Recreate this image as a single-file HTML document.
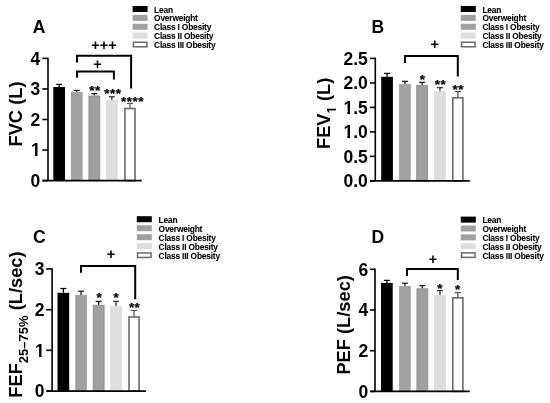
<!DOCTYPE html>
<html><head><meta charset="utf-8"><style>
html,body{margin:0;padding:0;background:#fff;}
svg{display:block;}
text{font-family:"Liberation Sans", Arial, sans-serif;}
.pl{font-size:17.5px;font-weight:bold;}
.tk{font-size:17.5px;font-weight:bold;text-anchor:end;}
.yl{font-size:18.3px;font-weight:bold;}
.lg{font-size:8.4px;font-weight:bold;letter-spacing:-0.2px;stroke:#000;stroke-width:0.08px;}
.st{font-size:13.5px;font-weight:bold;text-anchor:middle;letter-spacing:0.45px;stroke:#000;stroke-width:0.25px;}
.pp{font-size:14.5px;font-weight:bold;text-anchor:middle;}
.ax{stroke:#000;stroke-width:1.6;fill:none;}
.br{stroke:#000;stroke-width:2;fill:none;}
</style></head><body>
<svg width="550" height="403" viewBox="0 0 550 403">
<rect width="550" height="403" fill="#fff"/>
<g><text x="32.7" y="32.6" class="pl">A</text><line x1="48" y1="57.65" x2="48" y2="180.6" class="ax"/><line x1="42.3" y1="180.6" x2="48" y2="180.6" class="ax"/><text x="40.3" y="186.86" class="tk">0</text><line x1="42.3" y1="150.05" x2="48" y2="150.05" class="ax"/><text x="40.7" y="156.31" class="tk">1</text><line x1="42.3" y1="119.5" x2="48" y2="119.5" class="ax"/><text x="40.3" y="125.77" class="tk">2</text><line x1="42.3" y1="88.95" x2="48" y2="88.95" class="ax"/><text x="40.3" y="95.22" class="tk">3</text><line x1="42.3" y1="58.4" x2="48" y2="58.4" class="ax"/><text x="40.3" y="64.66" class="tk">4</text><line x1="59.15" y1="84.4" x2="59.15" y2="87" stroke="#000" stroke-width="1.3"/><line x1="56.15" y1="84.4" x2="62.15" y2="84.4" stroke="#000" stroke-width="1.25"/><rect x="53.3" y="87" width="11.7" height="93.6" fill="#000000"/><line x1="76.75" y1="90.4" x2="76.75" y2="92" stroke="#1a1a1a" stroke-width="1.3"/><line x1="73.75" y1="90.4" x2="79.75" y2="90.4" stroke="#1a1a1a" stroke-width="1.25"/><rect x="70.9" y="92" width="11.7" height="88.6" fill="#a0a1a5"/><line x1="94.35" y1="93.6" x2="94.35" y2="95.6" stroke="#1a1a1a" stroke-width="1.3"/><line x1="91.35" y1="93.6" x2="97.35" y2="93.6" stroke="#1a1a1a" stroke-width="1.25"/><rect x="88.9" y="96" width="10.9" height="84.6" fill="#a0a0a0" stroke="#888888" stroke-width="0.8"/><line x1="111.85" y1="96.8" x2="111.85" y2="99.9" stroke="#333" stroke-width="1.3"/><line x1="108.85" y1="96.8" x2="114.85" y2="96.8" stroke="#333" stroke-width="1.25"/><rect x="106" y="99.9" width="11.7" height="80.7" fill="#dedede"/><line x1="129.95" y1="103.4" x2="129.95" y2="107.7" stroke="#555" stroke-width="1.3"/><line x1="126.95" y1="103.4" x2="132.95" y2="103.4" stroke="#555" stroke-width="1.25"/><rect x="124.9" y="108.5" width="10.1" height="72.1" fill="#fff" stroke="#6a6a6a" stroke-width="1.6"/><line x1="42.4" y1="180.6" x2="141.8" y2="180.6" class="ax"/><text x="94.92" y="95.1" class="st">**</text><text x="112.82" y="97.6" class="st">***</text><text x="132.52" y="105.6" class="st">****</text><path d="M77 62.4V55.7H131.1V88.5" class="br"/><path d="M77.1 77.7V71.4H113.9V79.4" class="br"/><text x="104" y="49.8" class="pp">+++</text><text x="97.5" y="68.7" class="pp">+</text><rect x="132.6" y="6" width="15" height="6" fill="#000000"/><text x="154.1" y="12.55" class="lg">Lean</text><rect x="132.6" y="14.88" width="15" height="6" fill="#a0a1a5"/><text x="154.1" y="21.43" class="lg">Overweight</text><rect x="132.6" y="23.76" width="15" height="6" fill="#a0a0a0"/><text x="154.1" y="30.31" class="lg">Class I Obesity</text><rect x="132.6" y="32.64" width="15" height="6" fill="#dedede"/><text x="154.1" y="39.19" class="lg">Class II Obesity</text><rect x="133.35" y="42.27" width="13.5" height="4.5" fill="#fff" stroke="#6a6a6a" stroke-width="1.5"/><text x="154.1" y="48.07" class="lg">Class III Obesity</text><text transform="translate(21.6,146.5) rotate(-90)" class="yl">FVC (L)</text><rect x="31.27" y="153.72" width="3.68" height="3.19" fill="#fff"/><rect x="37.55" y="153.72" width="3.46" height="3.19" fill="#fff"/></g>
<g><text x="371.5" y="32.6" class="pl">B</text><line x1="375.3" y1="57.65" x2="375.3" y2="180.9" class="ax"/><line x1="370" y1="180.9" x2="375.3" y2="180.9" class="ax"/><text x="367.8" y="187.16" class="tk">0.0</text><line x1="370" y1="156.4" x2="375.3" y2="156.4" class="ax"/><text x="367.8" y="162.66" class="tk">0.5</text><line x1="370" y1="131.9" x2="375.3" y2="131.9" class="ax"/><text x="367.8" y="138.16" class="tk">1.0</text><line x1="370" y1="107.4" x2="375.3" y2="107.4" class="ax"/><text x="367.8" y="113.67" class="tk">1.5</text><line x1="370" y1="82.9" x2="375.3" y2="82.9" class="ax"/><text x="367.8" y="89.17" class="tk">2.0</text><line x1="370" y1="58.4" x2="375.3" y2="58.4" class="ax"/><text x="367.8" y="64.66" class="tk">2.5</text><line x1="387.05" y1="73.4" x2="387.05" y2="76.8" stroke="#000" stroke-width="1.3"/><line x1="384.05" y1="73.4" x2="390.05" y2="73.4" stroke="#000" stroke-width="1.25"/><rect x="381.2" y="76.8" width="11.7" height="104.1" fill="#000000"/><line x1="404.95" y1="81.3" x2="404.95" y2="84" stroke="#1a1a1a" stroke-width="1.3"/><line x1="401.95" y1="81.3" x2="407.95" y2="81.3" stroke="#1a1a1a" stroke-width="1.25"/><rect x="399.1" y="84" width="11.7" height="96.9" fill="#a0a1a5"/><line x1="422.15" y1="82.4" x2="422.15" y2="84.9" stroke="#1a1a1a" stroke-width="1.3"/><line x1="419.15" y1="82.4" x2="425.15" y2="82.4" stroke="#1a1a1a" stroke-width="1.25"/><rect x="416.7" y="85.3" width="10.9" height="95.6" fill="#a0a0a0" stroke="#888888" stroke-width="0.8"/><line x1="439.95" y1="87.7" x2="439.95" y2="90.9" stroke="#333" stroke-width="1.3"/><line x1="436.95" y1="87.7" x2="442.95" y2="87.7" stroke="#333" stroke-width="1.25"/><rect x="434.1" y="90.9" width="11.7" height="90" fill="#dedede"/><line x1="457.85" y1="91.4" x2="457.85" y2="97" stroke="#555" stroke-width="1.3"/><line x1="454.85" y1="91.4" x2="460.85" y2="91.4" stroke="#555" stroke-width="1.25"/><rect x="452.8" y="97.8" width="10.1" height="83.1" fill="#fff" stroke="#6a6a6a" stroke-width="1.6"/><line x1="370" y1="180.9" x2="469.8" y2="180.9" class="ax"/><text x="422.62" y="83.9" class="st">*</text><text x="440.42" y="88.8" class="st">**</text><text x="458.22" y="93.8" class="st">**</text><path d="M405 63.1V55.9H457.8V76.5" class="br"/><text x="434.8" y="48.8" class="pp">+</text><rect x="460.8" y="6" width="15" height="6" fill="#000000"/><text x="482.4" y="12.55" class="lg">Lean</text><rect x="460.8" y="14.88" width="15" height="6" fill="#a0a1a5"/><text x="482.4" y="21.43" class="lg">Overweight</text><rect x="460.8" y="23.76" width="15" height="6" fill="#a0a0a0"/><text x="482.4" y="30.31" class="lg">Class I Obesity</text><rect x="460.8" y="32.64" width="15" height="6" fill="#dedede"/><text x="482.4" y="39.19" class="lg">Class II Obesity</text><rect x="461.55" y="42.27" width="13.5" height="4.5" fill="#fff" stroke="#6a6a6a" stroke-width="1.5"/><text x="482.4" y="48.07" class="lg">Class III Obesity</text><text transform="translate(329.9,149) rotate(-90)" class="yl">FEV<tspan dy="6" font-size="13">1</tspan><tspan dy="-6"> (L)</tspan></text><rect x="343.77" y="135.57" width="3.68" height="3.19" fill="#fff"/><rect x="350.06" y="135.57" width="3.46" height="3.19" fill="#fff"/><rect x="343.77" y="111.08" width="3.68" height="3.19" fill="#fff"/><rect x="350.06" y="111.08" width="3.46" height="3.19" fill="#fff"/><g transform="translate(329.9,149) rotate(-90)"><rect x="35.58" y="3.87" width="2.92" height="2.73" fill="#fff"/><rect x="40.48" y="3.87" width="2.75" height="2.73" fill="#fff"/></g></g>
<g><text x="32.9" y="242.5" class="pl">C</text><line x1="52.1" y1="268.15" x2="52.1" y2="391.1" class="ax"/><line x1="46.2" y1="391.1" x2="52.1" y2="391.1" class="ax"/><text x="44.4" y="397.37" class="tk">0</text><line x1="46.2" y1="350.3" x2="52.1" y2="350.3" class="ax"/><text x="44.8" y="356.56" class="tk">1</text><line x1="46.2" y1="309.7" x2="52.1" y2="309.7" class="ax"/><text x="44.4" y="315.96" class="tk">2</text><line x1="46.2" y1="268.9" x2="52.1" y2="268.9" class="ax"/><text x="44.4" y="275.16" class="tk">3</text><line x1="63.35" y1="288.5" x2="63.35" y2="292.8" stroke="#000" stroke-width="1.3"/><line x1="60.35" y1="288.5" x2="66.35" y2="288.5" stroke="#000" stroke-width="1.25"/><rect x="57.5" y="292.8" width="11.7" height="98.3" fill="#000000"/><line x1="81.05" y1="291.2" x2="81.05" y2="294.9" stroke="#1a1a1a" stroke-width="1.3"/><line x1="78.05" y1="291.2" x2="84.05" y2="291.2" stroke="#1a1a1a" stroke-width="1.25"/><rect x="75.2" y="294.9" width="11.7" height="96.2" fill="#a0a1a5"/><line x1="98.65" y1="301.4" x2="98.65" y2="304.8" stroke="#1a1a1a" stroke-width="1.3"/><line x1="95.65" y1="301.4" x2="101.65" y2="301.4" stroke="#1a1a1a" stroke-width="1.25"/><rect x="93.2" y="305.2" width="10.9" height="85.9" fill="#a0a0a0" stroke="#888888" stroke-width="0.8"/><line x1="116.05" y1="301.3" x2="116.05" y2="306.3" stroke="#333" stroke-width="1.3"/><line x1="113.05" y1="301.3" x2="119.05" y2="301.3" stroke="#333" stroke-width="1.25"/><rect x="110.2" y="306.3" width="11.7" height="84.8" fill="#dedede"/><line x1="134.05" y1="310.4" x2="134.05" y2="316.2" stroke="#555" stroke-width="1.3"/><line x1="131.05" y1="310.4" x2="137.05" y2="310.4" stroke="#555" stroke-width="1.25"/><rect x="129" y="317" width="10.1" height="74.1" fill="#fff" stroke="#6a6a6a" stroke-width="1.6"/><line x1="46.6" y1="391.1" x2="145.9" y2="391.1" class="ax"/><text x="99.42" y="302.3" class="st">*</text><text x="116.32" y="302.3" class="st">*</text><text x="134.62" y="312.4" class="st">**</text><path d="M81 272.8V266.1H135.2V299.2" class="br"/><text x="111.1" y="259.2" class="pp">+</text><rect x="136.8" y="216.2" width="15" height="6" fill="#000000"/><text x="158.6" y="222.75" class="lg">Lean</text><rect x="136.8" y="225.2" width="15" height="6" fill="#a0a1a5"/><text x="158.6" y="231.75" class="lg">Overweight</text><rect x="136.8" y="234.2" width="15" height="6" fill="#a0a0a0"/><text x="158.6" y="240.75" class="lg">Class I Obesity</text><rect x="136.8" y="243.2" width="15" height="6" fill="#dedede"/><text x="158.6" y="249.75" class="lg">Class II Obesity</text><rect x="137.55" y="252.95" width="13.5" height="4.5" fill="#fff" stroke="#6a6a6a" stroke-width="1.5"/><text x="158.6" y="258.75" class="lg">Class III Obesity</text><text transform="translate(21.9,397.7) rotate(-90)" class="yl">FEF<tspan dy="6" font-size="13">25–75%</tspan><tspan dy="-6"> (L/sec)</tspan></text><rect x="35.37" y="353.97" width="3.68" height="3.19" fill="#fff"/><rect x="41.65" y="353.97" width="3.46" height="3.19" fill="#fff"/></g>
<g><text x="371.5" y="242.9" class="pl">D</text><line x1="375" y1="268.55" x2="375" y2="391.4" class="ax"/><line x1="369.9" y1="391.4" x2="375" y2="391.4" class="ax"/><text x="368.3" y="397.66" class="tk">0</text><line x1="369.9" y1="350.7" x2="375" y2="350.7" class="ax"/><text x="368.3" y="356.96" class="tk">2</text><line x1="369.9" y1="310" x2="375" y2="310" class="ax"/><text x="368.3" y="316.26" class="tk">4</text><line x1="369.9" y1="269.3" x2="375" y2="269.3" class="ax"/><text x="368.3" y="275.56" class="tk">6</text><line x1="386.85" y1="280.4" x2="386.85" y2="282.9" stroke="#000" stroke-width="1.3"/><line x1="383.85" y1="280.4" x2="389.85" y2="280.4" stroke="#000" stroke-width="1.25"/><rect x="381" y="282.9" width="11.7" height="108.5" fill="#000000"/><line x1="404.95" y1="283.2" x2="404.95" y2="285.9" stroke="#1a1a1a" stroke-width="1.3"/><line x1="401.95" y1="283.2" x2="407.95" y2="283.2" stroke="#1a1a1a" stroke-width="1.25"/><rect x="399.1" y="285.9" width="11.7" height="105.5" fill="#a0a1a5"/><line x1="422.35" y1="285.6" x2="422.35" y2="288.4" stroke="#1a1a1a" stroke-width="1.3"/><line x1="419.35" y1="285.6" x2="425.35" y2="285.6" stroke="#1a1a1a" stroke-width="1.25"/><rect x="416.9" y="288.8" width="10.9" height="102.6" fill="#a0a0a0" stroke="#888888" stroke-width="0.8"/><line x1="439.95" y1="290.6" x2="439.95" y2="294.9" stroke="#333" stroke-width="1.3"/><line x1="436.95" y1="290.6" x2="442.95" y2="290.6" stroke="#333" stroke-width="1.25"/><rect x="434.1" y="294.9" width="11.7" height="96.5" fill="#dedede"/><line x1="457.85" y1="292.5" x2="457.85" y2="297" stroke="#555" stroke-width="1.3"/><line x1="454.85" y1="292.5" x2="460.85" y2="292.5" stroke="#555" stroke-width="1.25"/><rect x="452.8" y="297.8" width="10.1" height="93.6" fill="#fff" stroke="#6a6a6a" stroke-width="1.6"/><line x1="370.6" y1="391.4" x2="469.8" y2="391.4" class="ax"/><text x="440.12" y="292.5" class="st">*</text><text x="457.92" y="294.1" class="st">*</text><path d="M407 276V269H457.8V280.1" class="br"/><text x="432.9" y="264.2" class="pp">+</text><rect x="460.8" y="216.6" width="15" height="6" fill="#000000"/><text x="482.4" y="223.15" class="lg">Lean</text><rect x="460.8" y="225.48" width="15" height="6" fill="#a0a1a5"/><text x="482.4" y="232.03" class="lg">Overweight</text><rect x="460.8" y="234.36" width="15" height="6" fill="#a0a0a0"/><text x="482.4" y="240.91" class="lg">Class I Obesity</text><rect x="460.8" y="243.24" width="15" height="6" fill="#dedede"/><text x="482.4" y="249.79" class="lg">Class II Obesity</text><rect x="461.55" y="252.87" width="13.5" height="4.5" fill="#fff" stroke="#6a6a6a" stroke-width="1.5"/><text x="482.4" y="258.67" class="lg">Class III Obesity</text><text transform="translate(350.4,374.6) rotate(-90)" class="yl">PEF (L/sec)</text></g>
</svg>
</body></html>
